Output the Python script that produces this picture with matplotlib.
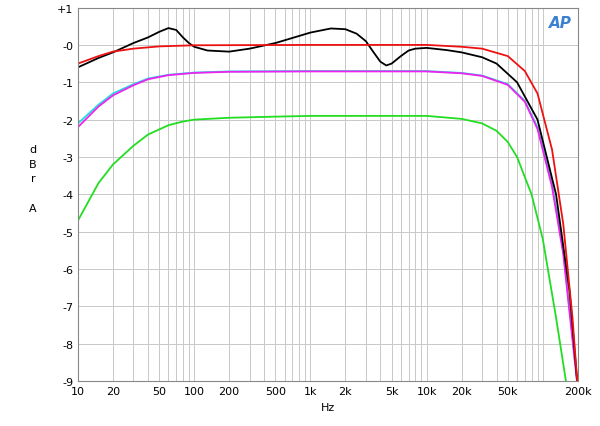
import matplotlib
matplotlib.use("Agg")
import matplotlib.pyplot as plt
from matplotlib.ticker import FixedLocator, NullFormatter

red_f = [10,15,20,30,50,100,1000,10000,20000,30000,50000,70000,90000,120000,150000,180000,200000]
red_v = [-0.5,-0.3,-0.18,-0.1,-0.04,-0.01,0,0,-0.05,-0.1,-0.3,-0.7,-1.3,-2.8,-4.8,-7.3,-9.2]
blk_f = [10,15,20,30,40,50,60,70,80,90,100,130,200,300,500,1000,1500,2000,2500,3000,3500,4000,4500,5000,6000,7000,8000,10000,15000,20000,30000,40000,60000,90000,130000,170000,200000]
blk_v = [-0.6,-0.35,-0.2,0.05,0.2,0.35,0.45,0.4,0.2,0.05,-0.05,-0.15,-0.18,-0.1,0.05,0.33,0.44,0.42,0.3,0.1,-0.2,-0.45,-0.55,-0.5,-0.3,-0.15,-0.1,-0.08,-0.14,-0.2,-0.33,-0.5,-1.0,-2.0,-4.0,-6.6,-9.2]
cyn_f = [10,15,20,30,40,60,100,200,1000,10000,20000,30000,50000,70000,90000,120000,150000,180000,200000]
cyn_v = [-2.1,-1.6,-1.3,-1.05,-0.9,-0.8,-0.74,-0.71,-0.7,-0.7,-0.75,-0.82,-1.05,-1.5,-2.2,-3.7,-5.5,-7.8,-9.2]
mag_f = cyn_f
mag_v = [-2.2,-1.65,-1.35,-1.08,-0.92,-0.81,-0.75,-0.72,-0.71,-0.71,-0.76,-0.83,-1.07,-1.52,-2.25,-3.8,-5.6,-7.9,-9.2]
grn_f = [10,15,20,30,40,60,80,100,200,500,1000,10000,20000,30000,40000,50000,60000,80000,100000,130000,160000,180000]
grn_v = [-4.7,-3.7,-3.2,-2.7,-2.4,-2.15,-2.05,-2.0,-1.95,-1.92,-1.9,-1.9,-1.98,-2.1,-2.3,-2.6,-3.0,-4.0,-5.2,-7.3,-9.1,-9.5]

xticks = [10,20,50,100,200,500,1000,2000,5000,10000,20000,50000,200000]
xlabels = ["10","20","50","100","200","500","1k","2k","5k","10k","20k","50k","200k"]
yticks = [1,0,-1,-2,-3,-4,-5,-6,-7,-8,-9]
ylabels = ["+1","-0","-1","-2","-3","-4","-5","-6","-7","-8","-9"]

fig = plt.figure(figsize=(6,4.27), dpi=100)
ax = fig.add_axes([0.13, 0.105, 0.833, 0.875])
ax.set_xscale("log")
ax.set_xlim(10, 200000)
ax.set_ylim(-9, 1)
minors = [m*10**e for e in range(1,6) for m in range(1,10) if 10<=m*10**e<=200000]
ax.xaxis.set_minor_locator(FixedLocator(minors))
ax.xaxis.set_minor_formatter(NullFormatter())
ax.set_xticks(xticks)
ax.set_xticklabels(xlabels, fontsize=8)
ax.set_yticks(yticks)
ax.set_yticklabels(ylabels, fontsize=8)
ax.grid(True, which="both", color="#c8c8c8", lw=0.7)
ax.tick_params(which="both", length=0)
for s in ax.spines.values():
    s.set_color("#888888")

ax.plot(grn_f, grn_v, color="#22dd22", lw=1.3)
ax.plot(cyn_f, cyn_v, color="#22dddd", lw=1.3)
ax.plot(mag_f, mag_v, color="#ee22ee", lw=1.3)
ax.plot(blk_f, blk_v, color="black", lw=1.3)
ax.plot(red_f, red_v, color="#ee1111", lw=1.3)

ax.set_xlabel("Hz", fontsize=8)
fig.text(0.055, 0.58, "d\nB\nr\n\nA", fontsize=8, ha="center", va="center", linespacing=1.6)
ax.text(0.965, 0.96, "AP", transform=ax.transAxes, color="#3b7fd0", fontsize=11,
        fontstyle="italic", fontweight="bold", ha="center", va="center")
fig.savefig("out.png", dpi=100)
